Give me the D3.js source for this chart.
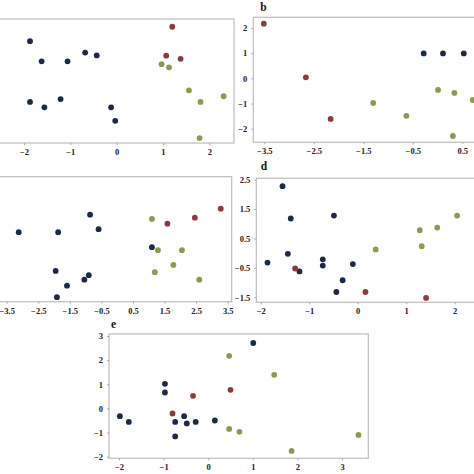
<!DOCTYPE html>
<html><head><meta charset="utf-8">
<script src="https://cdn.jsdelivr.net/npm/d3@7"></script>
<style>body{margin:0;background:#fff}svg{display:block}</style>
</head><body>
<script>
// ---- data (x, y) per panel and group ----
const groups = ["blue","red","green"];
const colors = {blue:"#1b2a4a", red:"#8c3a3e", green:"#8b9b52"};

const aBlue  = [[-1.87,1.54],[-1.62,0.76],[-1.06,0.76],[-0.68,1.10],[-0.43,0.99],[-1.87,-0.81],[-1.56,-1.02],[-1.21,-0.70],[-0.12,-1.02],[-0.03,-1.54]];
const aRed   = [[1.20,2.10],[1.07,0.98],[1.38,0.86]];
const aGreen = [[0.97,0.65],[1.13,0.53],[1.56,-0.36],[1.81,-0.81],[2.31,-0.59],[1.79,-2.21]];

const bBlue  = [[-0.28,0.99],[0.11,0.99],[0.53,0.99]];
const bRed   = [[-3.51,2.17],[-2.66,0.04],[-2.16,-1.61]];
const bGreen = [[-1.30,-0.98],[-0.63,-1.49],[0.01,-0.46],[0.34,-0.58],[0.71,-0.86],[0.31,-2.29]];

const cBlue  = [[-3.12,0.28],[-1.87,0.28],[-0.86,0.98],[-0.59,0.40],[1.10,-0.32],[-1.95,-1.27],[-0.90,-1.44],[-1.04,-1.62],[-1.59,-1.86],[-1.91,-2.32]];
const cRed   = [[1.59,0.62],[2.46,0.86],[3.28,1.22]];
const cGreen = [[1.10,0.81],[1.29,-0.44],[2.05,-0.44],[1.78,-1.03],[1.19,-1.32],[2.60,-1.62]];

const dBlue  = [[-1.55,2.28],[-1.38,1.18],[-0.49,1.28],[-1.44,-0.02],[-1.86,-0.32],[-0.72,-0.21],[-0.72,-0.42],[-1.20,-0.62],[-0.10,-0.37],[-0.31,-0.92],[-0.44,-1.32]];
const dRed   = [[-1.29,-0.52],[0.16,-1.32],[1.41,-1.52]];
const dGreen = [[0.37,0.13],[1.28,0.78],[1.32,0.24],[1.64,0.87],[2.05,1.28]];

const eBlue  = [[1.01,2.71],[-0.97,1.02],[-0.97,0.66],[-1.98,-0.32],[-1.78,-0.56],[-0.74,-0.56],[-0.54,-0.32],[-0.48,-0.62],[-0.28,-0.56],[0.15,-0.50],[-0.74,-1.16]];
const eRed   = [[-0.34,0.52],[0.50,0.77],[-0.80,-0.21]];
const eGreen = [[0.47,2.18],[1.48,1.39],[0.47,-0.85],[0.70,-0.97],[3.37,-1.10],[1.87,-1.76]];

const aXTicks = [-2,-1,0,1,2];
const bXTicks = [-3.5,-2.5,-1.5,-0.5,0.5];
const bYTicks = [-2,-1,0,1,2];
const cXTicks = [-3.5,-2.5,-1.5,-0.5,0.5,1.5,2.5,3.5];
const dXTicks = [-2,-1,0,1,2];
const dYTicks = [-1.5,-0.5,0.5,1.5,2.5];
const eXTicks = [-2,-1,0,1,2,3];
const eYTicks = [-2,-1,0,1,2,3];

const panels = [
  {label:null, series:{blue:aBlue,red:aRed,green:aGreen}, frame:[-10,19,234,143],
   xd:[-2,2], xr:[24,209.3], yd:[-2.4,2.4], yr:[143,19], xt:aXTicks, yt:null},
  {label:"b", lp:[263.5,10.5], series:{blue:bBlue,red:bRed,green:bGreen}, frame:[253.3,17.3,490,142.3],
   xd:[-3.5,0.5], xr:[264.3,462.3], yd:[-2,2], yr:[128.7,28], xt:bXTicks, yt:bYTicks},
  {label:null, series:{blue:cBlue,red:cRed,green:cGreen}, frame:[-10,176.7,231.7,301.7],
   xd:[-3.5,3.5], xr:[6.7,227.7], yd:[-2.5,2.5], yr:[301.7,176.7], xt:cXTicks, yt:null},
  {label:"d", lp:[264,170], series:{blue:dBlue,red:dRed,green:dGreen}, frame:[256.3,178.3,490,302.3],
   xd:[-2,2], xr:[260.7,454.7], yd:[-1.5,2.5], yr:[297.3,179.7], xt:dXTicks, yt:dYTicks},
  {label:"e", lp:[113.5,328], series:{blue:eBlue,red:eRed,green:eGreen}, frame:[109,334,368.3,458.3],
   xd:[-2,3], xr:[119,342], yd:[-2,3], yr:[456.7,336], xt:eXTicks, yt:eYTicks}
];

const svg = d3.select("body").append("svg").attr("width",474).attr("height",474);
const font = "'Liberation Serif','Times New Roman',serif";

panels.forEach(p => {
  const [x0,y0,x1,y1] = p.frame;
  const x = d3.scaleLinear().domain(p.xd).range(p.xr);
  const y = d3.scaleLinear().domain(p.yd).range(p.yr);
  const g = svg.append("g");
  g.append("rect").attr("x",x0).attr("y",y0).attr("width",x1-x0).attr("height",y1-y0)
    .attr("fill","none").attr("stroke","#bdbdbd").attr("stroke-width",1.2);

  const xa = g.append("g").attr("transform",`translate(0,${y1})`)
    .call(d3.axisBottom(x).tickValues(p.xt).tickSize(2).tickPadding(4).tickFormat(d3.format("")));
  xa.select(".domain").remove();
  xa.selectAll("line").attr("stroke","#aaa");
  xa.selectAll("text").attr("font-family",font).attr("font-weight","bold").attr("font-size",8.5).attr("fill","#222");

  if (p.yt) {
    const ya = g.append("g").attr("transform",`translate(${x0},0)`)
      .call(d3.axisLeft(y).tickValues(p.yt).tickSize(2).tickPadding(4).tickFormat(d3.format("")));
    ya.select(".domain").remove();
    ya.selectAll("line").attr("stroke","#aaa");
    ya.selectAll("text").attr("font-family",font).attr("font-weight","bold").attr("font-size",8.5).attr("fill","#222");
  }

  groups.forEach(k => {
    g.append("g").selectAll("circle").data(p.series[k]).join("circle")
      .attr("cx",d=>x(d[0])).attr("cy",d=>y(d[1])).attr("r",2.9)
      .attr("fill",colors[k]);
  });

  if (p.label) {
    svg.append("text").attr("x",p.lp[0]).attr("y",p.lp[1]).attr("text-anchor","middle")
      .attr("font-family",font).attr("font-weight","bold").attr("font-size",11.5).attr("fill","#111")
      .text(p.label);
  }
});
</script>
</body></html>
